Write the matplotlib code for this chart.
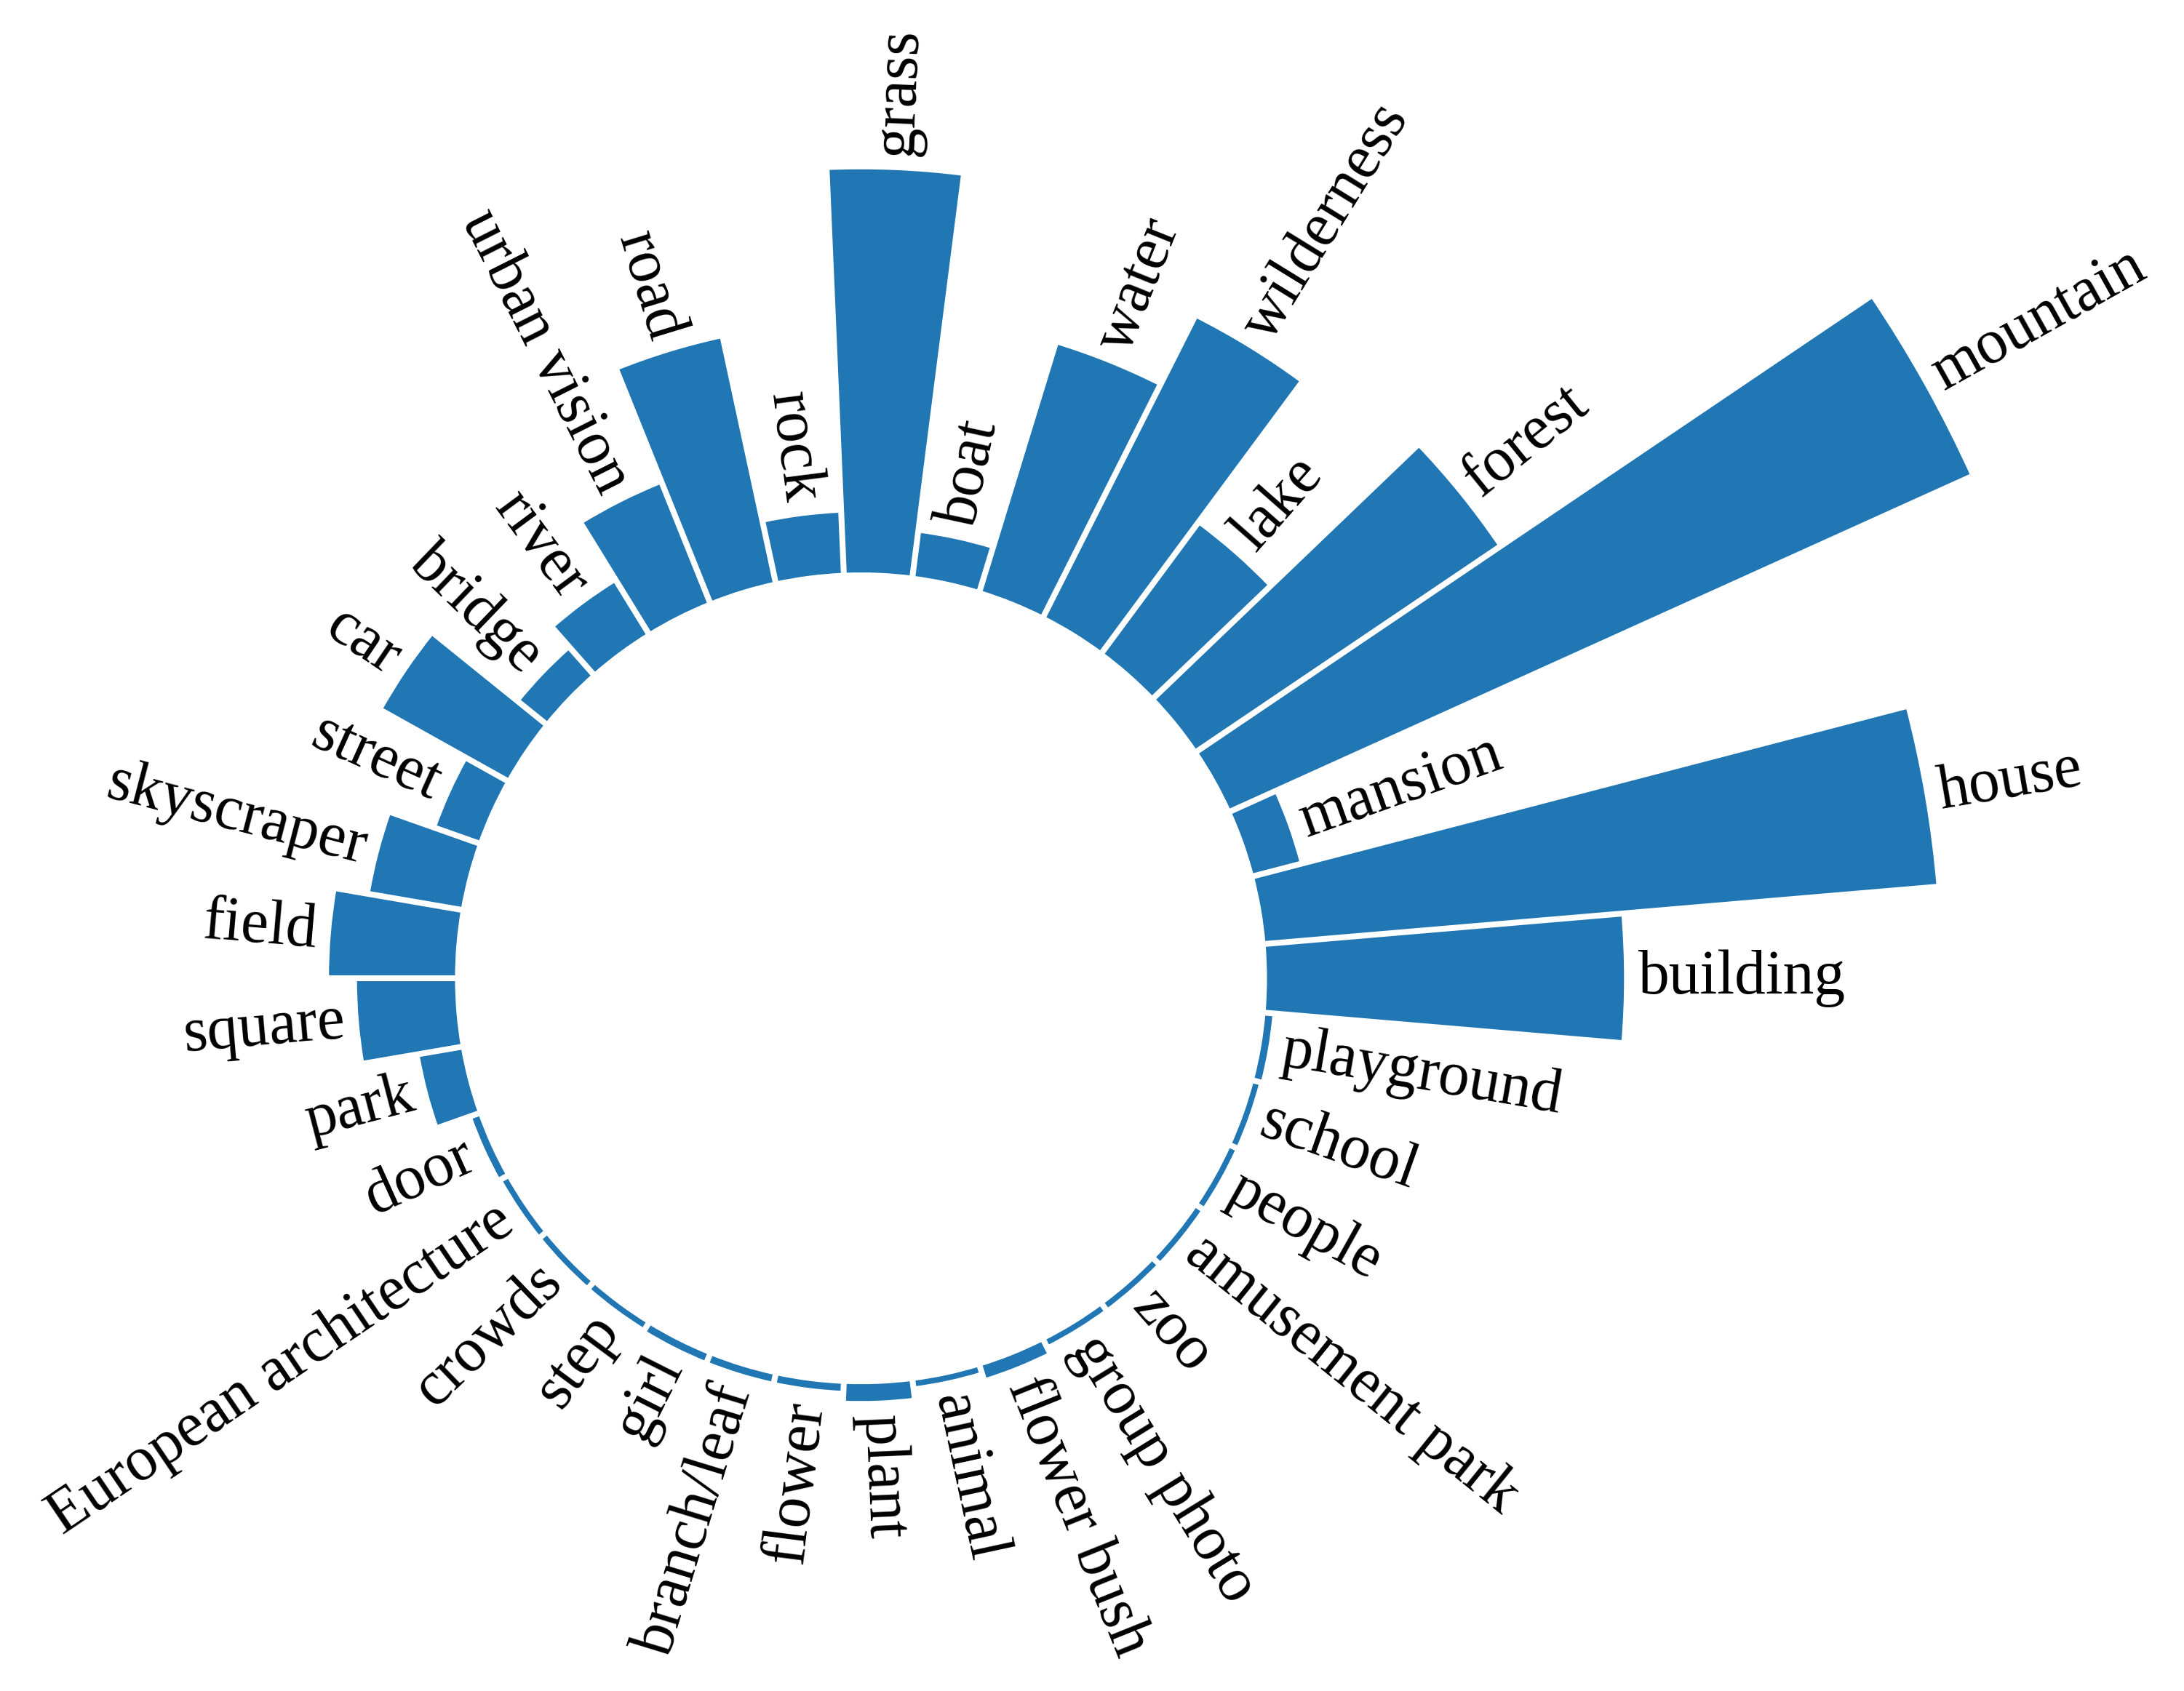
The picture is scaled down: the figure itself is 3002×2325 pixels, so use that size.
import numpy as np
import matplotlib.pyplot as plt

# categories counter-clockwise, starting at 3 o'clock
labels = ["building", "house", "mansion", "mountain", "forest", "lake",
          "wilderness", "water", "boat", "grass", "rock", "road",
          "urban vision", "river", "bridge", "car", "street", "skyscraper",
          "field", "square", "park", "door", "European architecture",
          "crowds", "step", "girl", "branch/leaf", "flower", "plant",
          "animal", "flower bush", "group photo", "zoo", "amusement park",
          "people", "school", "playground"]
values = [255, 481, 34, 580, 260, 114,
          239, 184, 31, 288, 43, 178,
          91, 43, 24, 102, 32, 66,
          90, 70, 30, 5, 4,
          4, 4, 5, 5, 5, 12,
          4, 9, 4, 4, 4,
          4, 4, 5]

inner = 290
rmax = 880
n = len(labels)
step = 2 * np.pi / n
theta = np.arange(n) * step

W, H = 3002, 2325
s = W / 1560
cx, cy = 615 * s, 699 * s
side = 2 * rmax * s

fig = plt.figure(figsize=(W / 200, H / 200), dpi=200)
ax = fig.add_axes([(cx - side / 2) / W, (H - cy - side / 2) / H, side / W, side / H],
                  projection='polar')

ax.bar(theta, values, width=step, bottom=inner, color='#2077b4',
       edgecolor='none', align='center')
ax.vlines(theta - step / 2, inner - 5, inner + max(values) + 20,
          colors='white', lw=2.9)

for t, v, lab in zip(theta, values, labels):
    ang = np.degrees(t)
    if ang > 180:
        ang -= 360
    if -90 <= ang <= 90:
        rot, ha = ang, 'left'
    else:
        rot, ha = ang - 180, 'right'
    ax.text(t, inner + v + 10, lab, rotation=rot, rotation_mode='anchor',
            ha=ha, va='center', fontsize=30.8, family='Liberation Serif')

ax.set_ylim(0, rmax)
ax.axis('off')

fig.savefig('out.png', dpi=200)
